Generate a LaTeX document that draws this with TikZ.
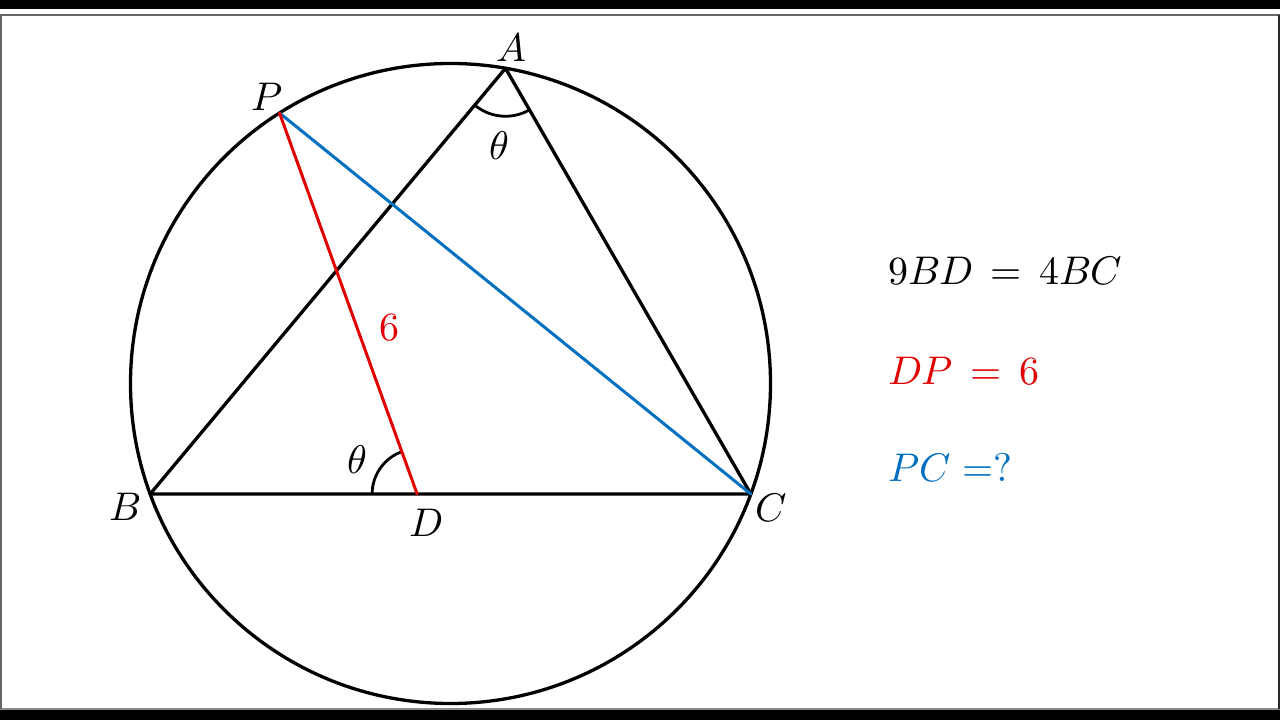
\documentclass[tikz,border=0pt]{standalone}
\usepackage{unicode-math}
\setmathfont{Latin Modern Math}
\usetikzlibrary{calc,angles}
\definecolor{myred}{RGB}{225,0,0}
\definecolor{myblue}{RGB}{0,112,192}
\begin{document}
\begin{tikzpicture}[x=1pt,y=1pt,
  geo/.style={line width=3.3pt, line join=round, line cap=round},
  colline/.style={line width=3pt, line cap=round},
  anglearc/.style={draw, line width=2.8pt},
  lbl/.style={inner sep=0pt, font=\fontsize{40}{48}\selectfont}]
\useasboundingbox (0,0) rectangle (1280,720);
% frame
\fill[white] (0,0) rectangle (1280,720);
\fill[black] (0,710.5) rectangle (1280,720);
\fill[black] (0,0) rectangle (1280,10);
\draw[black!60, line width=2pt] (0,705) -- (1280,705);
\draw[black!45, line width=1.2pt] (0,11) -- (1280,11);
\draw[black!60, line width=1.5pt] (0.75,11) -- (0.75,705);
\draw[black!85, line width=1.5pt] (1279,11) -- (1279,705);
% points
\coordinate (O) at (450.5,336.5);
\coordinate (A) at ($(O)+(80.1:320)$);
\coordinate (B) at ($(O)+(200.2:320)$);
\coordinate (C) at ($(O)+(339.8:320)$);
\coordinate (P) at ($(O)+(122.3:320)$);
\coordinate (D) at ($(B)!4/9!(C)$);
% circle and triangle
\draw[geo] (O) circle[radius=320];
\draw[geo] (A) -- (B) -- (C) -- cycle;
% angle marks
\pic[anglearc, angle radius=48pt] {angle=B--A--C};
\pic[anglearc, angle radius=45pt] {angle=P--D--B};
% chords
\draw[colline, myblue] (P) -- (C);
\draw[colline, myred] (P) -- (D);
% labels
\node[lbl] (lA) at (511,673) {$A$};
\node[lbl] (lP) at (267,623) {$P$};
\node[lbl] (lB) at (125,213) {$B$};
\node[lbl] (lC) at (771,212) {$C$};
\node[lbl] (lD) at (426,197) {$D$};
\node[lbl] (thA) at (499,574) {$\theta$};
\node[lbl] (thD) at (357,260) {$\theta$};
\node[lbl, text=myred] (six) at (389,392) {$6$};
% givens
\node[lbl, anchor=base west] (g1) at (888,435) {$9BD\,=\,4BC$};
\node[lbl, anchor=base west, text=myred] (g2) at (888,335) {$DP\,=\,6$};
\node[lbl, anchor=base west, text=myblue] (g3) at (888,238) {$PC\;{=}{?}$};
\end{tikzpicture}
\end{document}
